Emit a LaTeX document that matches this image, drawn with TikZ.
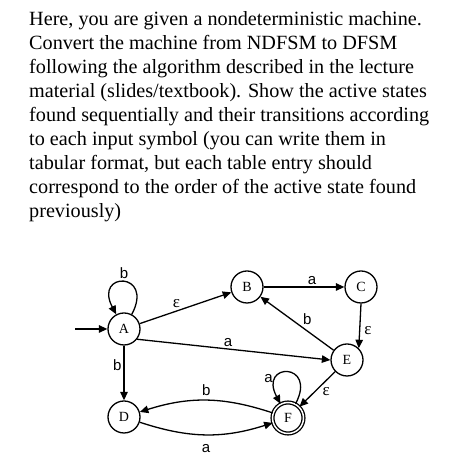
\documentclass[tikz,border=0pt]{standalone}
\usepackage{fontspec}
\setmainfont{Liberation Serif}
\newfontfamily\lblfont{Liberation Sans}
\usetikzlibrary{arrows.meta}

\begin{document}
\begin{tikzpicture}[x=1pt, y=1pt,
  st/.style={draw, circle, line width=1.3pt, minimum size=32pt, inner sep=0pt,
             font=\fontsize{14}{14}\selectfont},
  acc/.style={st, minimum size=31pt, double, double distance=1.5pt},
  edge/.style={line width=1.3pt, -{Triangle[length=8.5pt,width=7.5pt]}},
  elab/.style={font=\lblfont\fontsize{15}{15}\selectfont, inner sep=1pt},
  eps/.style={font=\fontsize{17}{17}\selectfont, inner sep=1pt}]
  \useasboundingbox (0,0) rectangle (474,473);
  \node[anchor=north west, align=left, inner sep=0pt,
        font=\fontsize{20.2}{24}\selectfont] (task) at (29,462)
    {Here, you are given a nondeterministic machine.\\
     Convert the machine from NDFSM to DFSM\\
     following the algorithm described in the lecture\\
     material (slides/textbook). Show the active states\\
     found sequentially and their transitions according\\
     to each input symbol (you can write them in\\
     tabular format, but each table entry should\\
     correspond to the order of the active state found\\
     previously)};
  \node[st] (A) at (124,144) {A};
  \node[st] (B) at (247,186) {B};
  \node[st] (C) at (361,186) {C};
  \node[st] (E) at (347,113) {E};
  \node[st] (D) at (124,56) {D};
  \node[acc] (F) at (288,55) {F};
  \coordinate (start) at (75,144);
  \draw[edge] (start) -- (A);
  \draw[edge] (A) to[out=62, in=118, looseness=8, min distance=38pt]
    node[elab, above=2pt] {b} (A);
  \draw[edge] (A) -- (B) node[eps, pos=0.4, above=2pt] {ε};
  \draw[edge] (A.-38) -- (E.west) node[elab, pos=0.47, above=1pt] {a};
  \draw[edge] (A) -- (D) node[elab, pos=0.35, left=1pt] {b};
  \draw[edge] (B) -- (C) node[elab, pos=0.6, above=1pt] {a};
  \draw[edge] (C.south) -- (E.north east) node[eps, pos=0.6, right=3pt] {ε};
  \draw[edge] (E) -- (B) node[elab, pos=0.44, above right=0pt] {b};
  \draw[edge] (E) -- (F) node[eps, pos=0.4, below right=0pt] {ε};
  \draw[edge] (F) to[out=62, in=118, looseness=8, min distance=40pt]
    node[elab, pos=0.72, left=3pt] {a} (F);
  \draw[edge] (F) to[bend right=18] node[elab, above=3pt] {b} (D);
  \draw[edge] (D) to[bend right=18] node[elab, below=8pt] {a} (F);
\end{tikzpicture}
\end{document}
